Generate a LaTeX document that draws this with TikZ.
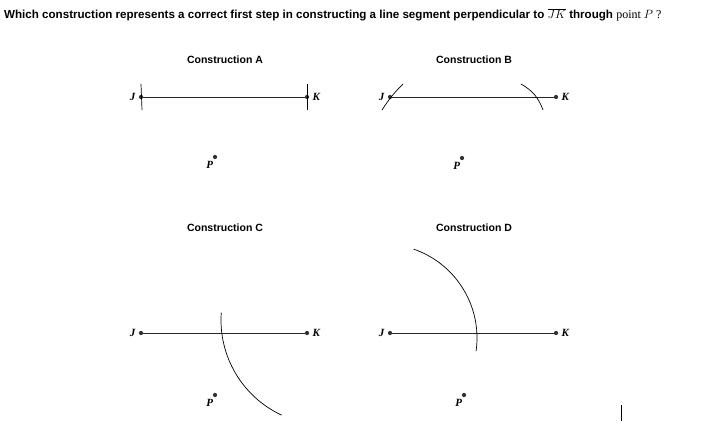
\documentclass[tikz,border=0pt]{standalone}
\usepackage{fontspec}
\setmainfont{Liberation Serif}
\setsansfont{Liberation Sans}
\usetikzlibrary{positioning}
\tikzset{dot/.style={circle, fill=black!80, inner sep=1.5pt},
	lbl/.style={font=\bfseries\itshape\fontsize{11}{12}\selectfont, inner sep=1pt},
	ttl/.style={font=\sffamily\bfseries\fontsize{10.5}{12}\selectfont},
	seg/.style={line width=.8pt, black!85},
	arcline/.style={line width=.7pt}}

\begin{document}
\begin{tikzpicture}[x=1pt,y=-1pt]
		\useasboundingbox (0,0) rectangle (716,433);
		
		\node[anchor=west, inner sep=0] (q) at (4,15) {\sffamily\bfseries\fontsize{11.6}{13}\selectfont Which construction represents a correct first step in constructing a line segment perpendicular to $\overline{JK}$ through \normalfont\fontsize{12}{13}\selectfont point $P$ ?};
		
		% construction A
		\node[ttl] (tA) at (225,60) {Construction A};
		\node[dot] (jA) at (141,97) {};
		\node[dot] (kA) at (307,97) {};
		\node[lbl, left=2pt of jA] {J};
		\node[lbl, right=2pt of kA] {K};
		\draw[seg] (jA) -- (kA);
		\draw[arcline] (141,84) -- (142,110);
		\draw[arcline] (307,84) -- (307,110);
		\node[dot] (pA) at (215,157) {};
		\node[lbl, below left=1pt and -1pt of pA] {P};
		
		% construction B
		\node[ttl] (tB) at (474,60) {Construction B};
		\node[dot] (jB) at (390,97) {};
		\node[dot] (kB) at (556,97) {};
		\node[lbl, left=2pt of jB] {J};
		\node[lbl, right=2pt of kB] {K};
		\draw[seg] (jB) -- (kB);
		\draw[arcline] (382,110) to[bend left=6] (403,84);
		\draw[arcline] (521,84) to[bend left=20] (543,110);
		\node[dot] (pB) at (462,158) {};
		\node[lbl, below left=1pt and -1pt of pB] {P};
		
		% construction C
		\node[ttl] (tC) at (225,228) {Construction C};
		\node[dot] (jC) at (141,333) {};
		\node[dot] (kC) at (307,333) {};
		\node[lbl, left=2pt of jC] {J};
		\node[lbl, right=2pt of kC] {K};
		\draw[seg] (jC) -- (kC);
		\draw[arcline] (326,320) ++(184:105) arc[start angle=184, end angle=115, radius=105];
		\node[dot] (pC) at (215,395) {};
		\node[lbl, below left=1pt and -1pt of pC] {P};
		
		% construction D
		\node[ttl] (tD) at (474,228) {Construction D};
		\node[dot] (jD) at (390,333) {};
		\node[dot] (kD) at (556,333) {};
		\node[lbl, left=2pt of jD] {J};
		\node[lbl, right=2pt of kD] {K};
		\draw[seg] (jD) -- (kD);
		\draw[arcline] (383,338) ++(-71:94) arc[start angle=-71, end angle=8, radius=94];
		\node[dot] (pD) at (464,395) {};
		\node[lbl, below left=1pt and -1pt of pD] {P};
		
		\draw[arcline] (621,405) -- (621,421);
	\end{tikzpicture}
\end{document}
